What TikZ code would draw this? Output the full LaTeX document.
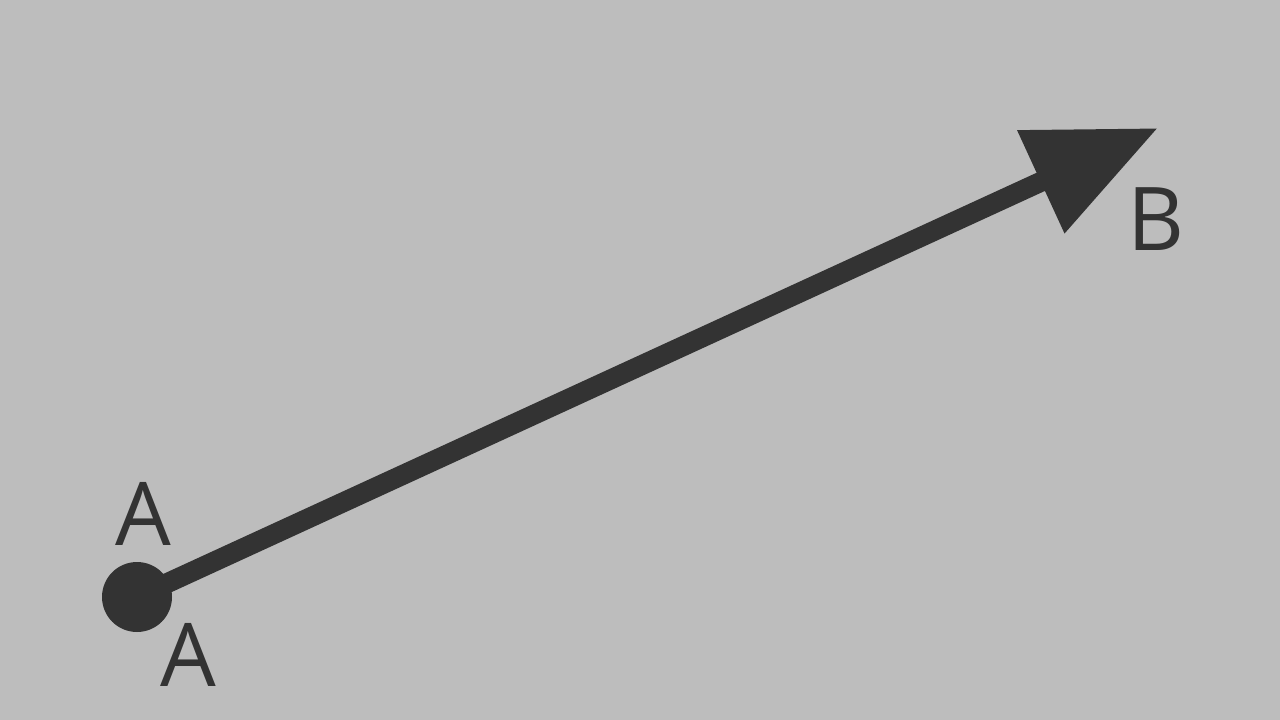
\documentclass[tikz,border=0pt]{standalone}
\usepackage{fontspec}
\setmainfont{Open Sans}
\usetikzlibrary{arrows.meta}
\definecolor{bg}{HTML}{BDBDBD}
\definecolor{ink}{HTML}{333333}
\begin{document}
\begin{tikzpicture}[x=1pt,y=-1pt,
  lbl/.style={text=ink,font=\fontsize{88}{88}\selectfont,anchor=base,inner sep=0pt},
  dotnode/.style={circle,fill=ink,minimum size=70pt,inner sep=0pt}]
\fill[bg] (0,0) rectangle (1280,720);
\useasboundingbox (0,0) rectangle (1280,720);
\node[dotnode] (A) at (137,597) {};
\coordinate (B) at (1158,128);
\draw[ink,line width=20pt,-{Triangle[length=129pt,width=108pt]}] (A.center) -- (B);
\node[lbl] (la1) at (143,545) {A};
\node[lbl] (la2) at (188,686) {A};
\node[lbl] (lb) at (1156,250) {B};
\end{tikzpicture}
\end{document}
